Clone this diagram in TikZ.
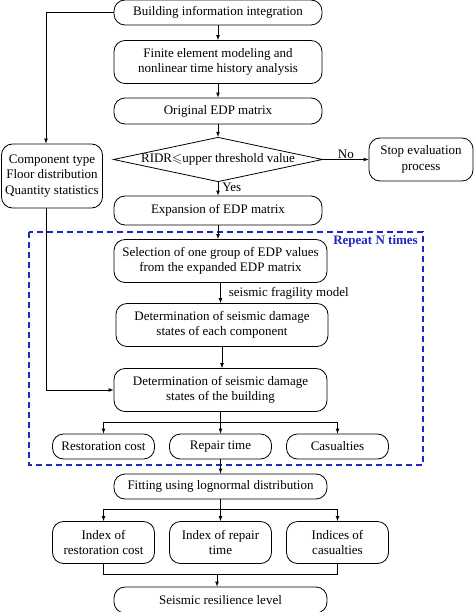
\documentclass[tikz,border=0pt]{standalone}
\usepackage{amssymb}
\usepackage{fontspec}
\setmainfont{Liberation Serif}
\usetikzlibrary{shapes.geometric, arrows, positioning}
\definecolor{repeatblue}{RGB}{30,40,190}

\begin{document}
\begin{tikzpicture}[x=1pt, y=1pt, node distance=50pt, font=\fontsize{13}{15.5}\selectfont]
\tikzstyle{process} = [rectangle, rounded corners=11pt, minimum width=208pt, minimum height=26pt, inner sep=1pt, text centered, align=center, draw, line width=0.8pt]
\tikzstyle{twoline} = [process, minimum height=43pt]
\tikzstyle{result} = [process, minimum width=102pt, minimum height=25pt]
\tikzstyle{decision} = [diamond, aspect=4.7, minimum width=207pt, minimum height=44pt, inner sep=0pt, text centered, draw, line width=0.8pt]
\tikzstyle{arrow} = [-latex, line width=0.7pt]
\useasboundingbox (0,0) rectangle (474,-612);

\node (info) [process, minimum height=25pt] at (218,-12.5) {Building information integration};
\node (fem) [twoline, below of=info, node distance=49.5pt] {Finite element modeling and\\nonlinear time history analysis};
\node (orig) [process, below of=fem, node distance=49pt] {Original EDP matrix};
\node (check) [decision, below of=orig, node distance=48.5pt] {RIDR$\leqslant$upper threshold value};
\node (stop) [twoline, minimum width=104pt, right of=check, node distance=203pt] {Stop evaluation\\process};
\node (comp) [twoline, minimum width=101pt, minimum height=64pt] at (52,-176) {Component type\\Floor distribution\\Quantity statistics};
\node (expand) [process, minimum height=29pt, below of=check, node distance=51pt] {Expansion of EDP matrix};
\node (select) [twoline, minimum width=213pt, below of=expand, node distance=50.5pt, xshift=2.5pt] {Selection of one group of EDP values\\from the expanded EDP matrix};
\node (dscomp) [twoline, minimum width=212pt, below of=select, node distance=64pt, xshift=1.5pt] {Determination of seismic damage\\states of each component};
\node (dsbld) [twoline, minimum width=213pt, below of=dscomp, node distance=65pt, xshift=-1.5pt] {Determination of seismic damage\\states of the building};
\node (time) [result, below of=dsbld, node distance=56.5pt] {Repair time};
\node (cost) [result, left of=time, node distance=117pt] {Restoration cost};
\node (casu) [result, right of=time, node distance=117pt] {Casualties};
\node (fit) [process, minimum width=213pt, minimum height=25pt, below of=time, node distance=40pt] {Fitting using lognormal distribution};
\node (itime) [result, minimum height=42pt, below of=fit, node distance=56pt] {Index of repair\\time};
\node (icost) [result, minimum height=42pt, left of=itime, node distance=117pt] {Index of\\restoration cost};
\node (icasu) [result, minimum height=42pt, right of=itime, node distance=117pt] {Indices of\\casualties};
\node (level) [process, minimum width=213pt, below of=itime, node distance=57.5pt] {Seismic resilience level};

% repeated loop
\draw [repeatblue, dashed, dash pattern=on 6pt off 4pt, line width=1.3pt] (29,-232) rectangle (423,-465);
\node (repeat) [anchor=north east, inner sep=2pt, text=repeatblue, font=\fontsize{13}{15.5}\selectfont\bfseries] at (420,-233) {Repeat N times};

\draw [arrow] (info) -- (fem);
\draw [arrow] (fem) -- (orig);
\draw [arrow] (orig) -- (check);
\draw [arrow] (check) -- node[above, inner sep=1pt] {No} (stop);
\draw [arrow] (check.south) -- node[right, pos=0.35, inner sep=4pt] {Yes} (expand.north);
\draw [arrow] (expand.south) -- (expand.south |- select.north);
\draw [arrow] (select.south) -- node[right, inner sep=8pt] {seismic fragility model} (select.south |- dscomp.north);
\draw [arrow] (dscomp.south) -- (dscomp.south |- dsbld.north);
\draw [arrow] (info.west) -| (comp.north -| 46,0);
\draw [arrow] (comp.south -| 46,0) |- (dsbld.west);
\draw [arrow] (dsbld.south) -- (time.north);
\draw [arrow] (dsbld.south) ++(0,-10.5) -| (cost.north);
\draw [arrow] (dsbld.south) ++(0,-10.5) -| (casu.north);
\draw [arrow] (time) -- (fit);
\draw [arrow] (fit.south) -- (itime.north);
\draw [arrow] (fit.south) ++(0,-10) -| (icost.north);
\draw [arrow] (fit.south) ++(0,-10) -| (icasu.north);
\draw [line width=0.7pt] (icost.south) -- ++(0,-10) -| (icasu.south);
\draw [arrow] (icost.south) ++(0,-10) -| (level.north -| 217,0);

\end{tikzpicture}
\end{document}
